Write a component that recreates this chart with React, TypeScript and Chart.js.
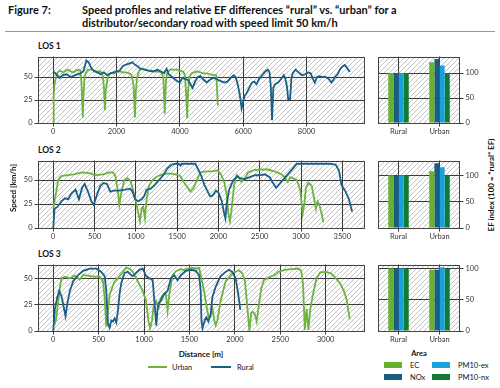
import React, { useEffect, useRef } from "react";
import { Chart, registerables } from "chart.js";
Chart.register(...registerables);

const FONT = "Lato, 'Noto Sans', sans-serif";
const GREEN_LINE = "#6cb33f";
const BLUE_LINE = "#1b5e87";
const GRID = "#3c3c3c";
const TICK_TEXT = "#333";

// ---- Speed profiles: [distance m, speed km/h] ----
const los1Rural: [number, number][] = [
  [0, 56], [100, 53], [200, 49], [300, 52], [420, 53], [550, 50], [700, 52], [850, 54], [950, 56], [1000, 62],
  [1050, 68], [1120, 66], [1200, 60], [1300, 56], [1400, 55], [1500, 53], [1600, 55], [1700, 52], [1800, 54], [1900, 55],
  [2000, 56], [2100, 57], [2200, 62], [2350, 64], [2500, 66], [2560, 64], [2650, 62], [2750, 59], [2900, 58], [3000, 57],
  [3150, 56], [3300, 58], [3400, 56], [3500, 54], [3580, 59], [3650, 53], [3750, 50], [3900, 46], [4000, 44], [4080, 49],
  [4150, 48], [4250, 47], [4320, 43], [4400, 38], [4480, 45], [4560, 50], [4650, 51], [4750, 47], [4850, 44], [4950, 47],
  [5050, 49], [5150, 48], [5260, 46], [5400, 44], [5500, 45], [5600, 49], [5700, 52], [5760, 50], [5820, 43], [5880, 33],
  [5950, 16], [6000, 24], [6050, 30], [6100, 32], [6200, 39], [6280, 44], [6350, 45], [6420, 42], [6500, 48], [6600, 52],
  [6700, 56], [6780, 58], [6830, 55], [6870, 40], [6910, 3], [6950, 38], [7000, 42], [7100, 44], [7200, 48], [7280, 52],
  [7330, 48], [7380, 40], [7420, 26], [7480, 26], [7520, 48], [7560, 54], [7650, 58], [7750, 55], [7850, 52], [7950, 53],
  [8050, 55], [8130, 54], [8200, 48], [8260, 44], [8330, 50], [8400, 51], [8500, 50], [8600, 50], [8700, 48], [8780, 44],
  [8830, 46], [8900, 50], [8980, 53], [9050, 58], [9120, 61], [9200, 63], [9280, 60], [9330, 57], [9380, 56],
];
const los1Urban: [number, number][] = [
  [0, 0], [15, 30], [40, 42], [90, 50], [140, 55], [200, 57], [260, 56], [320, 55], [400, 57], [480, 58],
  [560, 56], [640, 55], [720, 57], [800, 58], [860, 57], [890, 45], [920, 20], [935, 6], [955, 30], [990, 50],
  [1050, 56], [1100, 58], [1200, 58], [1300, 57], [1400, 56], [1500, 56], [1560, 52], [1600, 40], [1630, 14], [1660, 35],
  [1720, 50], [1800, 54], [1900, 54], [2000, 55], [2100, 56], [2200, 55], [2300, 55], [2400, 54], [2480, 52], [2540, 40],
  [2580, 6], [2610, 35], [2650, 50], [2720, 57], [2800, 59], [2900, 58], [3000, 57], [3100, 57], [3200, 56], [3300, 56],
  [3420, 55], [3480, 48], [3520, 10], [3560, 45], [3600, 55], [3700, 58], [3800, 58], [3900, 58], [4000, 57], [4100, 56],
  [4160, 52], [4200, 30], [4230, 5], [4260, 35], [4300, 50], [4370, 54], [4450, 55], [4550, 56], [4650, 55], [4750, 54],
  [4850, 54], [4950, 53], [5050, 52], [5150, 52], [5200, 19],
];
const los2Rural: [number, number][] = [
  [0, 0], [15, 20], [50, 22], [100, 28], [140, 31], [180, 30], [220, 36], [270, 40], [310, 30], [350, 42],
  [380, 46], [420, 38], [460, 28], [490, 24], [530, 35], [570, 44], [610, 47], [650, 46], [690, 38], [730, 39],
  [800, 39], [870, 40], [930, 41], [960, 38], [990, 30], [1030, 28], [1070, 30], [1100, 33], [1130, 40], [1180, 41],
  [1230, 45], [1280, 50], [1330, 55], [1380, 62], [1430, 66], [1480, 67], [1520, 67], [1540, 65], [1560, 67], [1650, 67],
  [1720, 67], [1750, 62], [1790, 55], [1830, 45], [1870, 38], [1900, 33], [1930, 34], [1970, 39], [2000, 37], [2040, 28],
  [2070, 15], [2085, 10], [2100, 25], [2130, 40], [2180, 50], [2230, 54], [2260, 52], [2320, 51], [2380, 53], [2440, 55],
  [2500, 55], [2560, 56], [2620, 53], [2660, 47], [2700, 42], [2740, 46], [2790, 51], [2850, 57], [2900, 62], [2950, 67],
  [3050, 67], [3200, 67], [3350, 67], [3420, 66], [3460, 60], [3490, 45], [3540, 38], [3580, 30], [3620, 17],
];
const los2Urban: [number, number][] = [
  [0, 20], [30, 35], [60, 50], [90, 54], [150, 55], [250, 56], [350, 58], [450, 57], [500, 55], [600, 56],
  [680, 58], [720, 58], [750, 55], [780, 40], [800, 24], [820, 35], [860, 50], [900, 52], [940, 48], [970, 38],
  [1000, 28], [1030, 15], [1050, 7], [1070, 20], [1090, 22], [1110, 10], [1130, 30], [1160, 44], [1200, 50], [1260, 54],
  [1330, 56], [1400, 57], [1480, 56], [1540, 54], [1580, 48], [1620, 43], [1660, 38], [1700, 42], [1740, 50], [1780, 58],
  [1850, 59], [1920, 59], [1990, 60], [2030, 56], [2070, 48], [2100, 35], [2120, 15], [2140, 7], [2160, 20], [2190, 45],
  [2220, 55], [2250, 52], [2280, 48], [2320, 52], [2360, 58], [2420, 60], [2500, 61], [2600, 61], [2680, 59], [2740, 57],
  [2780, 55], [2810, 52], [2840, 48], [2870, 53], [2900, 52], [2950, 50], [2990, 40], [3020, 15], [3040, 25], [3060, 42],
  [3090, 47], [3130, 44], [3160, 30], [3180, 20], [3200, 28], [3220, 25], [3250, 15], [3270, 6],
];
const los3Rural: [number, number][] = [
  [0, 0], [18, 21], [44, 32], [66, 38], [91, 33], [117, 22], [135, 14], [153, 25], [183, 38], [219, 47],
  [274, 53], [329, 57], [402, 59], [475, 59], [529, 56], [566, 52], [584, 38], [602, 7], [621, 3], [639, 10],
  [657, 9], [675, 12], [694, 8], [712, 19], [730, 35], [748, 45], [785, 55], [821, 56], [858, 53], [876, 52],
  [913, 55], [949, 58], [986, 59], [1022, 52], [1077, 49], [1095, 48], [1110, 32], [1135, 5], [1150, 22], [1165, 27],
  [1186, 29], [1223, 35], [1259, 38], [1296, 50], [1332, 53], [1369, 48], [1405, 53], [1460, 57], [1515, 58], [1570, 57],
  [1606, 53], [1624, 38], [1632, 10], [1643, 2.5], [1668, 10], [1686, 13], [1708, 9], [1734, 16], [1752, 32], [1789, 42],
  [1843, 52], [1898, 56], [1935, 58], [1971, 56], [2008, 50], [2037, 35], [2060, 20],
];
const los3Urban: [number, number][] = [
  [11, 5.5], [29, 10], [55, 28], [73, 41], [91, 50], [128, 51.5], [183, 50], [237, 52.4], [292, 48.5], [329, 53],
  [383, 52.4], [438, 51.5], [511, 51.5], [548, 47], [566, 31.6], [584, 4], [621, 34.7], [675, 47], [712, 50], [767, 56],
  [803, 60], [840, 59], [876, 56], [913, 50], [949, 44], [986, 37.7], [1022, 28.5], [1048, 10], [1066, 2.5], [1088, 10],
  [1102, 22], [1132, 28.5], [1161, 22], [1186, 31.6], [1223, 36], [1241, 34.7], [1259, 19], [1278, 34.7], [1314, 53], [1351, 56.7],
  [1405, 58.6], [1442, 57.6], [1478, 59.2], [1533, 59.8], [1570, 59], [1606, 59.8], [1624, 53], [1661, 37.7], [1697, 19], [1716, 11.6],
  [1734, 14.7], [1752, 22], [1770, 11.6], [1789, 5.5], [1807, 10], [1843, 28.5], [1898, 47], [1971, 54.6], [2044, 57.6], [2080, 55],
  [2110, 48], [2140, 20], [2160, 0], [2180, 17], [2200, 18], [2220, 16], [2240, 9], [2260, 22], [2290, 40], [2320, 48],
  [2380, 51], [2440, 53], [2480, 56], [2550, 58], [2620, 58.6], [2700, 59.2], [2730, 57], [2750, 45], [2770, 1], [2790, 21],
  [2810, 1], [2830, 20], [2860, 35], [2900, 50], [2940, 55.5], [3000, 56], [3060, 54.6], [3110, 50], [3160, 45], [3200, 38],
  [3230, 30], [3265, 11],
];

// ---- Axis ticks ----
const los1DistTicks = [0, 2000, 4000, 6000, 8000];
const los23DistTicks = [0, 500, 1000, 1500, 2000, 2500, 3000, 3500];
const los3DistTicks = [0, 500, 1000, 1500, 2000, 2500, 3000];
const speedTicks = [0, 25, 50];
const efTicks = [0, 50, 100];

// ---- EF index bars: values per pollutant [EC, NOx, PM10-ex, PM10-nx] ----
const areas = ["Rural", "Urban"];
const pollutants = ["EC", "NOx", "PM10-ex", "PM10-nx"];
const pollutantColors = ["#66b22f", "#1a5c84", "#19a1dc", "#117a35"];
const los1RuralEF = [100, 100, 100, 100];
const los1UrbanEF = [121.5, 128, 115, 100];
const los2RuralEF = [100, 100, 100, 100];
const los2UrbanEF = [107.5, 123, 115, 100];
const los3RuralEF = [100, 100, 100, 100];
const los3UrbanEF = [98, 98, 102, 100];

type Rect = { left: number; top: number; width: number; height: number };
type Area = { l: number; t: number; r: number; b: number };

let hatchTile: HTMLCanvasElement | null = null;
function getHatch() {
  if (hatchTile) return hatchTile;
  const s = 5;
  const c = document.createElement("canvas");
  c.width = s;
  c.height = s;
  const g = c.getContext("2d")!;
  g.fillStyle = "#ffffff";
  g.fillRect(0, 0, s, s);
  g.strokeStyle = "#bcbcbc";
  g.lineWidth = 0.9;
  g.beginPath();
  g.moveTo(-1, s + 1);
  g.lineTo(s + 1, -1);
  g.moveTo(-1, 1);
  g.lineTo(1, -1);
  g.moveTo(s - 1, s + 1);
  g.lineTo(s + 1, s - 1);
  g.stroke();
  hatchTile = c;
  return c;
}

const panelPlugin = {
  id: "panelDeco",
  beforeDraw(chart: any) {
    const { ctx, chartArea: a } = chart;
    const pat = ctx.createPattern(getHatch(), "repeat");
    ctx.save();
    ctx.fillStyle = pat;
    ctx.fillRect(a.left, a.top, a.right - a.left, a.bottom - a.top);
    ctx.restore();
  },
  afterDraw(chart: any) {
    const { ctx, chartArea: a } = chart;
    ctx.save();
    ctx.strokeStyle = "#444";
    ctx.lineWidth = 1;
    ctx.strokeRect(Math.round(a.left) + 0.5, Math.round(a.top) + 0.5, Math.round(a.right - a.left) - 1, Math.round(a.bottom - a.top) - 1);
    ctx.restore();
  },
};

const tickFont = { family: FONT, size: 7.5 };

function toPts(arr: [number, number][]) {
  return arr.map(([x, y]) => ({ x, y }));
}

function lineConfig(rect: Rect, area: Area, rural: [number, number][], urban: [number, number][], xMin: number, xMax: number, xTicks: number[], yMax: number): any {
  const yAxisW = area.l - rect.left;
  const xAxisH = rect.top + rect.height - area.b;
  return {
    type: "line",
    data: {
      datasets: [
        { label: "Rural", data: toPts(rural), borderColor: BLUE_LINE, borderWidth: 1.8, pointRadius: 0, tension: 0, fill: false },
        { label: "Urban", data: toPts(urban), borderColor: GREEN_LINE, borderWidth: 1.8, pointRadius: 0, tension: 0, fill: false },
      ],
    },
    options: {
      responsive: false,
      animation: false,
      devicePixelRatio: 1,
      events: [],
      layout: { padding: { left: 0, top: area.t - rect.top, right: rect.left + rect.width - area.r, bottom: 0 } },
      plugins: { legend: { display: false }, tooltip: { enabled: false } },
      scales: {
        x: {
          type: "linear",
          min: xMin,
          max: xMax,
          afterBuildTicks: (s: any) => { s.ticks = xTicks.map((v) => ({ value: v })); },
          afterFit: (s: any) => { s.height = xAxisH; },
          grid: { color: GRID, lineWidth: 1, drawTicks: true, tickLength: 3.5, tickColor: GRID },
          border: { display: false },
          ticks: { font: tickFont, color: TICK_TEXT, padding: 1, maxRotation: 0, autoSkip: false, callback: (v: any) => String(v) },
        },
        y: {
          type: "linear",
          min: 0,
          max: yMax,
          afterBuildTicks: (s: any) => { s.ticks = speedTicks.map((v) => ({ value: v })); },
          afterFit: (s: any) => { s.width = yAxisW; },
          grid: { color: GRID, lineWidth: 1, drawTicks: true, tickLength: 3.5, tickColor: GRID },
          border: { display: false },
          ticks: { font: tickFont, color: TICK_TEXT, padding: 2, callback: (v: any) => String(v) },
        },
      },
    },
    plugins: [panelPlugin],
  };
}

function barConfig(rect: Rect, area: Area, rural: number[], urban: number[], yMax: number): any {
  const yAxisW = rect.left + rect.width - area.r;
  const xAxisH = rect.top + rect.height - area.b;
  return {
    type: "bar",
    data: {
      labels: areas,
      datasets: pollutants.map((p, i) => ({
        label: p,
        data: [rural[i], urban[i]],
        backgroundColor: pollutantColors[i],
        borderWidth: 0,
        barPercentage: 1,
        categoryPercentage: 0.5,
      })),
    },
    options: {
      responsive: false,
      animation: false,
      devicePixelRatio: 1,
      events: [],
      layout: { padding: { left: area.l - rect.left, top: area.t - rect.top, right: 0, bottom: 0 } },
      plugins: { legend: { display: false }, tooltip: { enabled: false } },
      scales: {
        x: {
          type: "category",
          afterFit: (s: any) => { s.height = xAxisH; },
          grid: { color: GRID, lineWidth: 1, offset: false, drawTicks: true, tickLength: 3.5, tickColor: GRID },
          border: { display: false },
          ticks: { font: tickFont, color: TICK_TEXT, padding: 1 },
        },
        y: {
          type: "linear",
          position: "right",
          min: 0,
          max: yMax,
          afterBuildTicks: (s: any) => { s.ticks = efTicks.map((v) => ({ value: v })); },
          afterFit: (s: any) => { s.width = yAxisW; },
          grid: { color: GRID, lineWidth: 1, drawTicks: true, tickLength: 3.5, tickColor: GRID },
          border: { display: false },
          ticks: { font: tickFont, color: TICK_TEXT, padding: 2, callback: (v: any) => String(v) },
        },
      },
    },
    plugins: [panelPlugin],
  };
}

function ChartBox({ rect, build }: { rect: Rect; build: () => any }) {
  const ref = useRef<HTMLCanvasElement>(null);
  useEffect(() => {
    const chart = new Chart(ref.current!, build());
    return () => chart.destroy();
  }, []);
  return (
    <canvas
      ref={ref}
      width={rect.width}
      height={rect.height}
      style={{ position: "absolute", left: rect.left, top: rect.top, width: rect.width, height: rect.height }}
    />
  );
}

const areasY = [
  { t: 55, b: 123 },
  { t: 159, b: 228 },
  { t: 263, b: 331 },
];

function lineRect(i: number): Rect {
  return { left: 0, top: areasY[i].t - 5, width: 370, height: areasY[i].b - areasY[i].t + 5 + 17 };
}
function lineArea(i: number): Area {
  return { l: 38, t: areasY[i].t, r: 365, b: areasY[i].b };
}
function barRect(i: number): Rect {
  return { left: 372, top: areasY[i].t - 5, width: 110, height: areasY[i].b - areasY[i].t + 5 + 17 };
}
function barArea(i: number): Area {
  return { l: 378, t: areasY[i].t, r: 460, b: areasY[i].b };
}

const abs = (left: number, top: number, extra: React.CSSProperties = {}): React.CSSProperties => ({
  position: "absolute",
  left,
  top,
  whiteSpace: "nowrap",
  fontFamily: FONT,
  color: "#111",
  ...extra,
});

export default function App() {
  const panels = [
    { rural: los1Rural, urban: los1Urban, xMin: -480, xMax: 9845, xTicks: los1DistTicks, yMax: 72.3, efR: los1RuralEF, efU: los1UrbanEF, efMax: 133 },
    { rural: los2Rural, urban: los2Urban, xMin: -185, xMax: 3775, xTicks: los23DistTicks, yMax: 70.4, efR: los2RuralEF, efU: los2UrbanEF, efMax: 128 },
    { rural: los3Rural, urban: los3Urban, xMin: -168, xMax: 3433, xTicks: los3DistTicks, yMax: 63, efR: los3RuralEF, efU: los3UrbanEF, efMax: 106.5 },
  ];
  const losLabels = ["LOS 1", "LOS 2", "LOS 3"];
  return (
    <div style={{ position: "absolute", left: 0, top: 0, width: 500, height: 388, background: "#fff", overflow: "hidden" }}>
      <div style={abs(8, 3, { fontWeight: 700, fontSize: 11, lineHeight: "13px" })}>Figure 7:</div>
      <div style={abs(82, 3, { fontWeight: 700, fontSize: 11, lineHeight: "13px" })}>
        Speed profiles and relative EF differences “rural” vs. “urban” for a
        <br />
        distributor/secondary road with speed limit 50 km/h
      </div>
      <div style={{ position: "absolute", left: 5, top: 31, width: 490, height: 0, borderTop: "1.5px solid #999" }} />

      {panels.map((p, i) => (
        <React.Fragment key={i}>
          <div style={abs(38, areasY[i].t - 14, { fontWeight: 700, fontSize: 8.5, lineHeight: "10px" })}>{losLabels[i]}</div>
          <ChartBox rect={lineRect(i)} build={() => lineConfig(lineRect(i), lineArea(i), p.rural, p.urban, p.xMin, p.xMax, p.xTicks, p.yMax)} />
          <ChartBox rect={barRect(i)} build={() => barConfig(barRect(i), barArea(i), p.efR, p.efU, p.efMax)} />
        </React.Fragment>
      ))}

      <div style={abs(13, 188, { fontWeight: 700, fontSize: 8, transform: "translate(-50%,-50%) rotate(-90deg)" })}>Speed [km/h]</div>
      <div style={abs(491, 185, { fontWeight: 700, fontSize: 8, transform: "translate(-50%,-50%) rotate(-90deg)" })}>EF index (100 = “rural” EF)</div>
      <div style={abs(201, 354, { fontWeight: 700, fontSize: 8, transform: "translate(-50%,-50%)" })}>Distance [m]</div>

      {/* line legend */}
      <div style={{ position: "absolute", left: 148, top: 366, width: 19, height: 2, background: GREEN_LINE }} />
      <div style={abs(172, 367, { fontSize: 7.5, transform: "translateY(-50%)" })}>Urban</div>
      <div style={{ position: "absolute", left: 211, top: 366, width: 20, height: 2, background: BLUE_LINE }} />
      <div style={abs(237, 367, { fontSize: 7.5, transform: "translateY(-50%)" })}>Rural</div>

      {/* bar legend */}
      <div style={abs(419, 353, { fontWeight: 700, fontSize: 7.5, transform: "translate(-50%,-50%)" })}>Area</div>
      {pollutants.map((p, i) => {
        const col = i === 0 || i === 1 ? 0 : 1;
        const row = i === 0 || i === 2 ? 0 : 1;
        const x = col === 0 ? 384 : 432;
        const y = row === 0 ? 365 : 377;
        return (
          <React.Fragment key={p}>
            <div style={{ position: "absolute", left: x, top: y - 3, width: 18, height: 6, background: pollutantColors[i] }} />
            <div style={abs(x + 26, y, { fontSize: 7.5, transform: "translateY(-50%)" })}>{p}</div>
          </React.Fragment>
        );
      })}
    </div>
  );
}
